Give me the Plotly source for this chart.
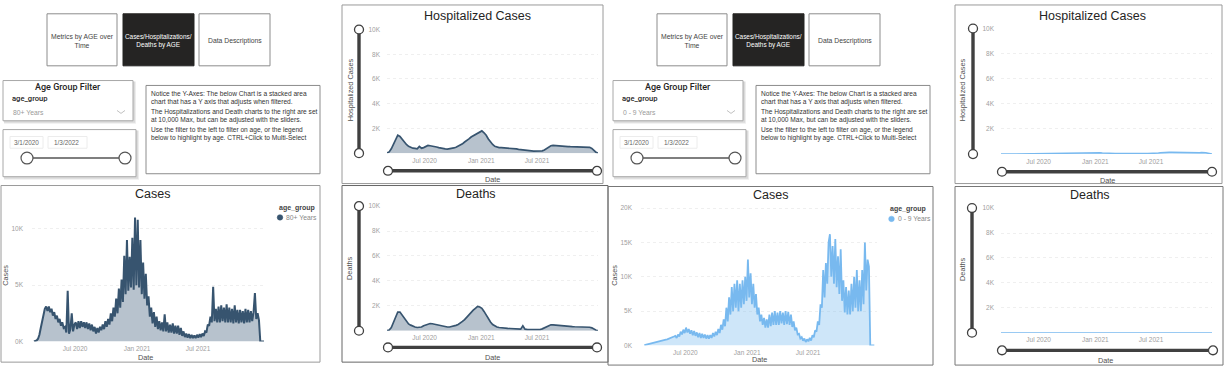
import pandas as pd
import plotly.graph_objects as go

W, H = 1228, 372
FONT = "Segoe UI, Liberation Sans, Arial, sans-serif"

# ---------------- data ----------------
start_date = "2020-03-01"

# Cases, 80+ Years (sampled every 4 days from 3/1/2020)
cases_80_plus = [
    0, 20, 100, 250, 600, 1200, 1800, 2500,                 # Mar 2020
    2900, 3100, 2700, 3100, 2600, 2900, 2300, 2600,         # Apr
    2000, 2300, 1700, 2000, 1400, 1700, 1200,               # May
    1300, 800, 4500, 700, 1100, 2500, 900, 1500,            # Jun
    1700, 1100, 1800, 1200, 1800, 1300, 1700, 1200,         # Jul
    1700, 1100, 1600, 1000, 1500, 900, 1300,                # Aug
    700, 1200, 800, 1300, 1000, 1500, 1100, 1800,           # Sep
    1300, 2000, 1500, 2500, 1800, 3000, 2200, 3800,         # Oct
    2500, 4700, 3000, 5500, 3500, 7600, 4200,               # Nov
    9000, 4500, 7500, 4800, 9200, 4600, 11000, 5000,        # Dec
    10800, 4800, 9000, 4200, 7000, 3800, 6000, 3200,        # Jan 2021
    4000, 2200, 3000, 1600, 2600, 1300, 2200,               # Feb
    1100, 1800, 1000, 1700, 900, 2400, 900,                 # Mar
    1700, 800, 1500, 800, 1600, 700, 1400, 700,             # Apr
    1400, 600, 1200, 500, 900, 400, 700, 350,               # May
    650, 300, 600, 300, 550, 300, 600,                      # Jun
    350, 650, 400, 700, 500, 900, 800, 1500,                # Jul
    1400, 2200, 1700, 4850, 1800, 2900, 1700, 3100,         # Aug
    1700, 3200, 1800, 3000, 1700, 3300, 1700,               # Sep
    3000, 1700, 2900, 1600, 3200, 1700, 2800, 1600,         # Oct
    2800, 1700, 2700, 1600, 2900, 1700, 2800,               # Nov
    1700, 2700, 1800, 2600, 4300, 2000, 2500, 1900,         # Dec
    0, 0, 0, 0,                                             # Jan 2022
]

# Cases, 0 - 9 Years (sampled every 4 days from 3/1/2020)
cases_0_9 = [
    50, 100, 150, 250, 300, 400, 450, 500,                  # Mar 2020
    550, 600, 620, 650, 700, 720, 750, 800,                 # Apr
    850, 880, 950, 1000, 1100, 1200, 1300,                  # May
    1400, 1100, 1600, 1300, 2000, 1600, 2300, 1800,         # Jun
    2600, 1900, 2400, 1700, 2200, 1500, 2100, 1400,         # Jul
    1900, 1200, 1800, 1100, 1700, 1100, 1600,               # Aug
    1000, 1500, 1000, 1500, 1100, 1800, 1300, 2000,         # Sep
    1500, 2400, 1800, 3000, 2300, 3800, 2800, 5500,         # Oct
    3500, 7000, 4500, 8500, 5000, 9000, 5500,               # Nov
    9500, 5000, 9000, 5500, 9500, 6000, 10000, 6500,        # Dec
    12500, 7000, 10500, 6000, 9000, 5500, 7500, 4500,       # Jan 2021
    5500, 3500, 4500, 3000, 4000, 2600, 3800,               # Feb
    2600, 4500, 2800, 4800, 3000, 5000, 3000,               # Mar
    4800, 3000, 5000, 3200, 4800, 3000, 5000, 3100,         # Apr
    4900, 3000, 4500, 2700, 3500, 2200, 2600, 1600,         # May
    1700, 1000, 1200, 700, 1000, 500, 900,                  # Jun
    600, 1100, 700, 1500, 1200, 2200, 2000, 3500,           # Jul
    3000, 6000, 5500, 11000, 7000, 12000, 9000, 15000,      # Aug
    16200, 10000, 14500, 9000, 15500, 8500, 13000,          # Sep
    7500, 14000, 6500, 9500, 4800, 8500, 4500, 8000,        # Oct
    4500, 9000, 5000, 10000, 5500, 11000, 5000,             # Nov
    9500, 5000, 11000, 6000, 15000, 8000, 12500, 11500,     # Dec
    0, 0, 0, 0,                                             # Jan 2022
]

# Weekly series (every 7 days from 3/1/2020)
hosp_80_plus = [
    10, 100, 350, 700, 1100,            # Mar 2020
    1450, 1350, 1100, 850,              # Apr
    700, 550, 450, 400, 380,            # May
    350, 550, 400, 450,                 # Jun
    550, 620, 600, 580,                 # Jul
    550, 500, 450, 400, 380,            # Aug
    350, 330, 350, 380,                 # Sep
    420, 480, 550, 650,                 # Oct
    750, 900, 1000, 1150, 1300,         # Nov
    1400, 1550, 1650, 1750,             # Dec
    1800, 1650, 1450, 1150, 900,        # Jan 2021
    700, 550, 480, 450,                 # Feb
    440, 430, 420, 400,                 # Mar
    400, 380, 360, 340,                 # Apr
    300, 270, 250, 230, 210,            # May
    200, 180, 160, 150,                 # Jun
    140, 150, 180, 250,                 # Jul
    380, 520, 600, 620, 600,            # Aug
    590, 570, 560, 550,                 # Sep
    540, 530, 520, 510, 500,            # Oct
    500, 490, 480, 470,                 # Nov
    480, 500, 470, 380,                 # Dec
    200, 60, 0,                         # Jan 2022
]

deaths_80_plus = [
    5, 60, 250, 650, 1100,              # Mar 2020
    1500, 1500, 1250, 1000,             # Apr
    750, 550, 450, 350, 300,            # May
    260, 250, 300, 400,                 # Jun
    480, 550, 580, 560,                 # Jul
    520, 480, 430, 380, 350,            # Aug
    320, 300, 300, 330,                 # Sep
    380, 430, 500, 600,                 # Oct
    750, 900, 1100, 1300, 1500,         # Nov
    1650, 1800, 1950, 1900,             # Dec
    1800, 1550, 1250, 950, 700,         # Jan 2021
    500, 380, 300, 260,                 # Feb
    230, 210, 200, 190,                 # Mar
    180, 170, 160, 150,                 # Apr
    150, 130, 400, 120, 110,            # May
    100, 90, 80, 80,                    # Jun
    80, 100, 150, 220,                  # Jul
    320, 420, 480, 470, 450,            # Aug
    430, 400, 380, 370,                 # Sep
    360, 350, 340, 330, 320,            # Oct
    320, 310, 310, 300,                 # Nov
    300, 290, 280, 230,                 # Dec
    120, 40, 0,                         # Jan 2022
]

hosp_0_9 = [
    2, 5, 10, 15, 20,
    20, 22, 22, 25,
    25, 28, 30, 30, 32,
    35, 38, 40, 42,
    45, 48, 48, 45,
    45, 42, 42, 40, 40,
    40, 42, 45, 48,
    50, 55, 60, 65,
    70, 80, 90, 95, 100,
    105, 115, 120, 125,
    130, 120, 105, 90, 75,
    65, 60, 55, 55,
    55, 55, 58, 60,
    60, 62, 62, 60,
    58, 55, 50, 48, 45,
    42, 40, 40, 40,
    45, 55, 70, 90,
    110, 130, 145, 150, 150,
    145, 140, 130, 120,
    110, 100, 95, 90, 90,
    90, 95, 100, 105,
    110, 120, 125, 115,
    75, 30, 0,
]

deaths_0_9 = [
    0, 0, 0, 0, 1,
    1, 1, 1, 1,
    1, 1, 1, 1, 1,
    1, 1, 1, 1,
    1, 2, 2, 2,
    2, 2, 1, 1, 1,
    1, 1, 1, 1,
    1, 1, 2, 2,
    2, 2, 3, 3, 3,
    3, 3, 4, 4,
    4, 4, 3, 3, 2,
    2, 2, 1, 1,
    1, 1, 1, 1,
    1, 1, 1, 1,
    1, 1, 1, 1, 1,
    1, 1, 0, 0,
    0, 1, 1, 1,
    2, 2, 3, 3, 3,
    3, 3, 3, 2,
    2, 2, 2, 2, 2,
    2, 2, 2, 2,
    2, 2, 2, 2,
    1, 0, 0,
]

x_tick_dates = ["2020-07-01", "2021-01-01", "2021-07-01"]
x_tick_labels = ["Jul 2020", "Jan 2021", "Jul 2021"]
cases80_ticks = [0, 5000, 10000]
cases80_labels = ["0K", "5K", "10K"]
cases09_ticks = [0, 5000, 10000, 15000, 20000]
cases09_labels = ["0K", "5K", "10K", "15K", "20K"]
hd_ticks = [2000, 4000, 6000, 8000, 10000]
hd_labels = ["2K", "4K", "6K", "8K", "10K"]

# ---------------- styles ----------------
DARK_LINE = "#37546f"
DARK_FILL = "rgba(60,90,120,0.37)"
LIGHT_LINE = "#78b9ef"
LIGHT_FILL = "rgba(125,188,240,0.38)"


def dates(values, freq):
    return pd.date_range(start_date, periods=len(values), freq=freq)


def PX(x):
    return x / W


def PY(y):
    return 1 - y / H


fig = go.Figure()

traces = [
    ("x", "y", dates(cases_80_plus, "4D"), cases_80_plus, DARK_LINE, DARK_FILL, 2.0),
    ("x2", "y2", dates(cases_0_9, "4D"), cases_0_9, LIGHT_LINE, LIGHT_FILL, 1.8),
    ("x3", "y3", dates(hosp_80_plus, "7D"), hosp_80_plus, DARK_LINE, DARK_FILL, 1.7),
    ("x4", "y4", dates(deaths_80_plus, "7D"), deaths_80_plus, DARK_LINE, DARK_FILL, 1.7),
    ("x5", "y5", dates(hosp_0_9, "7D"), hosp_0_9, LIGHT_LINE, LIGHT_FILL, 1.5),
    ("x6", "y6", dates(deaths_0_9, "7D"), deaths_0_9, LIGHT_LINE, LIGHT_FILL, 1.5),
]
for xa, ya, xs, ys, lc, fc, lw in traces:
    fig.add_trace(go.Scatter(x=xs, y=ys, xaxis=xa, yaxis=ya, mode="lines",
                             line=dict(color=lc, width=lw), fill="tozeroy",
                             fillcolor=fc, hoverinfo="skip", showlegend=False))

tickfont = dict(family=FONT, size=6.5, color="#a0a0a0")


def xaxis(px0, px1, rng, anchor):
    return dict(domain=[PX(px0), PX(px1)], range=rng, anchor=anchor,
                tickvals=x_tick_dates, ticktext=x_tick_labels, showgrid=False,
                zeroline=False, showline=False, ticks="", tickfont=tickfont,
                ticklabelstandoff=2, fixedrange=True)


def yaxis(py_bottom, py_top, rng, tv, tt, anchor, standoff):
    return dict(domain=[PY(py_bottom), PY(py_top)], range=rng, anchor=anchor,
                tickvals=tv, ticktext=tt, showgrid=True, gridcolor="#efefef",
                griddash="dot", gridwidth=1, zeroline=False, showline=False,
                ticks="", tickfont=tickfont, ticklabelstandoff=standoff,
                fixedrange=True)


fig.update_layout(
    xaxis=xaxis(32, 264, ["2020-02-24", "2022-01-13"], "y"),
    yaxis=yaxis(344, 206, [0, 12000], cases80_ticks, cases80_labels, "x", 8),
    xaxis2=xaxis(641, 877, ["2020-02-20", "2022-01-22"], "y2"),
    yaxis2=yaxis(348, 206, [0, 20300], cases09_ticks, cases09_labels, "x2", 8),
    xaxis3=xaxis(387, 598, ["2020-03-01", "2022-01-15"], "y3"),
    yaxis3=yaxis(152, 26, [0, 10000], hd_ticks, hd_labels, "x3", 6),
    xaxis4=xaxis(387, 598, ["2020-03-01", "2022-01-15"], "y4"),
    yaxis4=yaxis(333, 206, [0, 10000], hd_ticks, hd_labels, "x4", 6),
    xaxis5=xaxis(1001, 1212, ["2020-03-01", "2022-01-15"], "y5"),
    yaxis5=yaxis(153, 25, [0, 10000], hd_ticks, hd_labels, "x5", 6),
    xaxis6=xaxis(1001, 1212, ["2020-03-01", "2022-01-15"], "y6"),
    yaxis6=yaxis(335, 208, [0, 10000], hd_ticks, hd_labels, "x6", 6),
)

shapes = []
annotations = []


def rect(x0, y0, x1, y1, line="#8c8c8c", width=1, fill="rgba(0,0,0,0)", layer="below"):
    shapes.append(dict(type="rect", xref="paper", yref="paper",
                       x0=PX(x0), x1=PX(x1), y0=PY(y1), y1=PY(y0),
                       line=dict(color=line, width=width), fillcolor=fill, layer=layer))


def seg(x0, y0, x1, y1, color="#404040", width=3.4):
    shapes.append(dict(type="line", xref="paper", yref="paper",
                       x0=PX(x0), x1=PX(x1), y0=PY(y0), y1=PY(y1),
                       line=dict(color=color, width=width), layer="above"))


def circ(cx, cy, r, fill="white", line="#404040", width=1.3):
    shapes.append(dict(type="circle", xref="paper", yref="paper",
                       x0=PX(cx - r), x1=PX(cx + r), y0=PY(cy + r), y1=PY(cy - r),
                       line=dict(color=line, width=width), fillcolor=fill, layer="above"))


def txt(x, y, s, size=7, color="#444", xanchor="center", yanchor="middle",
        angle=0, weight="normal", family=FONT, align="center"):
    annotations.append(dict(x=PX(x), y=PY(y), xref="paper", yref="paper", text=s,
                            showarrow=False, xanchor=xanchor, yanchor=yanchor,
                            textangle=angle, align=align,
                            font=dict(family=family, size=size, color=color, weight=weight)))


def shadow_box(x0, y0, x1, y1):
    rect(x0 + 1, y0 + 1, x1 + 3, y1 + 3, line="rgba(0,0,0,0)", width=0, fill="rgba(0,0,0,0.07)")
    rect(x0 + 1, y0 + 1, x1 + 2, y1 + 2, line="rgba(0,0,0,0)", width=0, fill="rgba(0,0,0,0.08)")
    rect(x0, y0, x1, y1, line="#a8a8a8", fill="white")


def controls(ox, age_value):
    # navigation buttons
    rect(47 + ox, 10, 117 + ox, 63, line="#8c8c8c", fill="white")
    txt(82 + ox, 37.5, "Metrics by AGE over<br>Time", size=6.8, color="#444")
    rect(123 + ox, 10, 194 + ox, 63, line="#252423", fill="#252423")
    txt(158.5 + ox, 37.5, "Cases/Hospitalizations/<br>Deaths by AGE", size=6.4, color="white")
    rect(199 + ox, 10, 270 + ox, 63, line="#8c8c8c", fill="white")
    txt(234.5 + ox, 37.5, "Data Descriptions", size=6.8, color="#444")

    # age group slicer
    shadow_box(3 + ox, 78, 133 + ox, 119)
    txt(68 + ox, 84.5, "Age Group Filter", size=9, color="#252423", weight=500, family="Roboto, " + FONT)
    txt(10 + ox, 96, "age_group", size=7.6, color="#252423", xanchor="left", weight=500, family="Roboto, " + FONT)
    txt(11 + ox, 110.5, age_value, size=6.8, color="#9a9a9a", xanchor="left")
    shapes.append(dict(type="path", xref="paper", yref="paper",
                       path=f"M {PX(117 + ox)} {PY(108.5)} L {PX(121 + ox)} {PY(111.5)} L {PX(125 + ox)} {PY(108.5)}",
                       line=dict(color="#b0b0b0", width=0.8), layer="above"))

    # date slicer
    shadow_box(3 + ox, 128, 136 + ox, 176)
    rect(10 + ox, 135, 43 + ox, 147, line="#ececec", fill="white")
    rect(48 + ox, 135, 87 + ox, 147, line="#ececec", fill="white")
    txt(26.5 + ox, 141, "3/1/2020", size=6.4, color="#666")
    txt(66 + ox, 141, "1/3/2022", size=6.4, color="#666")
    seg(27 + ox, 157, 125 + ox, 157, color="#555", width=1.5)
    circ(27 + ox, 157, 6, line="#555", width=1.2)
    circ(125 + ox, 157, 6, line="#555", width=1.2)

    # description text box
    rect(146 + ox, 83, 320 + ox, 173, line="#8c8c8c", fill="white")
    lines = [
        (91, "Notice the Y-Axes: The below Chart is a stacked area"),
        (99.5, "chart that has a Y axis that adjusts when filtered."),
        (110, "The Hospitalizations and Death charts to the right are set"),
        (118.5, "at 10,000 Max, but can be adjusted with the sliders."),
        (128.5, "Use the filter to the left to filter on age, or the legend"),
        (137, "below to highlight by age. CTRL+Click to Multi-Select"),
    ]
    for yy, s in lines:
        txt(149 + ox, yy, s, size=6.6, color="#333", xanchor="left")


controls(0, "80+ Years")
controls(610, "0 - 9 Years")

# chart frames
rect(1, 185, 320, 365, line="#9a9a9a")
rect(342, 1, 603, 183, line="#9a9a9a")
rect(342, 185, 608, 365, line="#666")
rect(608, 186, 933, 368, line="#777")
rect(955, 1, 1222, 183, line="#9a9a9a")
rect(955, 186, 1223, 368, line="#777")

# chart titles
for x, y, s in [(152, 193.5, "Cases"), (477, 12.5, "Hospitalized Cases"), (476, 193.5, "Deaths"),
                (771, 194.5, "Cases"), (1092, 12.5, "Hospitalized Cases"), (1090, 195, "Deaths")]:
    txt(x, y, s, size=12.5, color="#252423", family="Liberation Sans, Arial, sans-serif")

# axis titles
for x, y in [(145, 360), (492, 179), (492, 360), (759, 362.5), (1107, 180), (1105, 363)]:
    txt(x, y, "Date", size=7.3, color="#505050", weight=500)
for x, y, s in [(6, 276, "Cases"), (350, 88, "Hospitalized Cases"), (350, 270, "Deaths"),
                (615, 277, "Cases"), (962, 88, "Hospitalized Cases"), (963, 271, "Deaths")]:
    txt(x, y, s, size=7.3, color="#505050", angle=-90, weight=500)

# axis range sliders on the fixed-max charts
for vx, vy0, vy1, hy, hx0, hx1 in [(359, 26, 152, 170, 388, 597), (359, 206, 333, 350, 388, 597),
                                   (973, 25, 153, 171, 1002, 1212), (972, 208, 335, 353, 1002, 1213)]:
    seg(vx, vy0, vx, vy1)
    seg(hx0, hy, hx1, hy)
    for cx, cy in [(vx, vy0), (vx, vy1), (hx0, hy), (hx1, hy)]:
        circ(cx, cy, 4.5)

# legends
txt(277, 207.5, "age_group", size=7, color="#444", xanchor="left", weight="bold")
circ(280, 217.5, 2.8, fill=DARK_LINE, line=DARK_LINE, width=0.5)
txt(284, 217.5, "80+ Years", size=6.8, color="#888", xanchor="left")
txt(888, 208.5, "age_group", size=7, color="#444", xanchor="left", weight="bold")
circ(891.5, 219, 2.8, fill=LIGHT_LINE, line=LIGHT_LINE, width=0.5)
txt(895.5, 219, "0 - 9 Years", size=6.8, color="#888", xanchor="left")

fig.update_layout(
    width=W, height=H, margin=dict(l=0, r=0, t=0, b=0),
    paper_bgcolor="white", plot_bgcolor="rgba(0,0,0,0)",
    showlegend=False, shapes=shapes, annotations=annotations,
    font=dict(family=FONT),
)

fig.write_html("out.html", config={"displayModeBar": False},
               post_script="document.body.style.margin='0';")
